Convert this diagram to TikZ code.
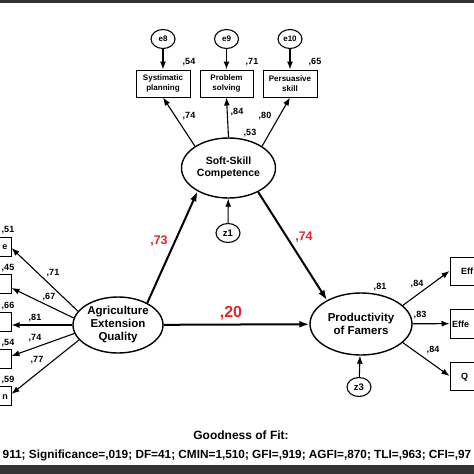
\documentclass[tikz,border=0pt]{standalone}
\usepackage{fontspec}
\setmainfont{Liberation Sans}
\usetikzlibrary{shapes.geometric,arrows.meta}
\definecolor{coefred}{RGB}{230,35,45}
\begin{document}
\begin{tikzpicture}[x=1pt,y=-1pt,
  lat/.style={ellipse,draw,line width=1.4pt,inner sep=0pt,align=center,font=\fontsize{11.5}{13}\selectfont\bfseries},
  err/.style={ellipse,draw,line width=1.1pt,inner sep=0pt,minimum width=24pt,minimum height=19pt,font=\fontsize{8}{9}\selectfont\bfseries},
  ind/.style={rectangle,draw,line width=1pt,inner sep=0pt,align=center,font=\fontsize{8}{9.5}\selectfont\bfseries},
  frag/.style={inner sep=0pt,font=\fontsize{9}{10}\selectfont\bfseries},
  thinarr/.style={-{Latex[length=8pt,width=6pt]},line width=1.1pt},
  thickarr/.style={-{Latex[length=10pt,width=7pt]},line width=2pt},
  coef/.style={font=\fontsize{9}{10}\selectfont\bfseries,inner sep=0pt},
  redcoef/.style={font=\fontsize{12.5}{14}\selectfont\bfseries,text=coefred,inner sep=0pt},
  fit/.style={inner sep=0pt,font=\fontsize{12}{14}\selectfont\bfseries},
]
\useasboundingbox (0,0) rectangle (474,474);
\fill[black!80] (0,0) rectangle (474,3);
\fill[black!80] (0,465) rectangle (474,474);

% latent variables
\node[lat,minimum width=94pt,minimum height=60pt,font=\fontsize{10.5}{12}\selectfont\bfseries] (soft) at (228.5,168) {Soft-Skill\\Competence};
\node[lat,minimum width=90pt,minimum height=56pt] (agri) at (118,325) {Agriculture\\Extension\\Quality};
\node[lat,minimum width=102pt,minimum height=62pt,font=\fontsize{11.5}{12.5}\selectfont\bfseries] (prod) at (361,324) {Productivity\\of Famers};

% error terms
\node[err] (e8) at (163,39) {e8};
\node[err] (e9) at (226.5,39) {e9};
\node[err] (e10) at (290,39) {e10};
\node[err,font=\fontsize{9.5}{10}\selectfont\bfseries] (z1) at (228,233) {z1};
\node[err,font=\fontsize{9.5}{10}\selectfont\bfseries] (z3) at (359,387) {z3};

% indicators top
\node[ind,minimum width=54pt,minimum height=27pt] (b1) at (163,83.5) {Systimatic\\planning};
\node[ind,minimum width=53pt,minimum height=27pt] (b2) at (226.5,83.5) {Problem\\solving};
\node[ind,minimum width=54pt,minimum height=27pt] (b3) at (290,83.5) {Persuasive\\skill};

% indicators left (cut by the edge)
\node[ind,minimum width=52pt,minimum height=19pt] (l1) at (-15,246.5) {};
\node[ind,minimum width=52pt,minimum height=19pt] (l2) at (-15,284) {};
\node[ind,minimum width=52pt,minimum height=19pt] (l3) at (-15,322) {};
\node[ind,minimum width=52pt,minimum height=19pt] (l4) at (-15,359) {};
\node[ind,minimum width=52pt,minimum height=19pt] (l5) at (-15,396) {};
\node[frag] (l1t) at (5,247) {e};
\node[frag] (l5t) at (5,397) {n};

% indicators right (cut by the edge)
\node[ind,minimum width=70pt,minimum height=28pt] (r1) at (485,271) {};
\node[ind,minimum width=70pt,minimum height=29pt] (r2) at (485,323.5) {};
\node[ind,minimum width=70pt,minimum height=28pt] (r3) at (485,376) {};
\node[frag,anchor=west] (r1t) at (461,271.5) {Eff};
\node[frag,anchor=west] (r2t) at (452,324) {Effe};
\node[frag,anchor=west] (r3t) at (461,377) {Q};

% connectors
\draw[thinarr] (e8) -- (b1);
\draw[thinarr] (e9) -- (b2);
\draw[thinarr] (e10) -- (b3);
\draw[thinarr] (soft.147) -- (b1.south);
\draw[thinarr] (soft.90) -- (b2.south);
\draw[thinarr] (soft.33) -- (b3.south);
\draw[thinarr] (z1) -- (soft);
\draw[thinarr] (z3) -- (prod);
\draw[thickarr] (agri.37) -- (soft.217);
\draw[thickarr] (soft.321) -- (prod.145);
\draw[thickarr] (agri) -- (prod);
\draw[thinarr] (prod.24) -- (r1.west);
\draw[thinarr] (prod) -- (r2);
\draw[thinarr] (prod.-24) -- (r3.west);
\draw[thinarr] (agri.161) -- ([yshift=-1.5pt]l1.east);
\draw[thinarr] (agri.171) -- ([yshift=-4pt]l2.east);
\draw[thinarr] (agri.180) -- ([yshift=-3pt]l3.east);
\draw[thinarr] (agri.191) -- ([yshift=3pt]l4.east);
\draw[thinarr] (agri.201) -- ([yshift=2pt]l5.east);

% coefficients
\node[coef] (c1) at (189,62) {,54};
\node[coef] (c2) at (252,62) {,71};
\node[coef] (c3) at (315,62) {,65};
\node[coef] (c4) at (189,116) {,74};
\node[coef] (c5) at (237,112) {,84};
\node[coef] (c6) at (265,116) {,80};
\node[coef] (c7) at (250,133) {,53};
\node[coef] (c8) at (380,287) {,81};
\node[coef] (c9) at (417,284) {,84};
\node[coef] (c10) at (420,315) {,83};
\node[coef] (c11) at (433,350) {,84};
\node[coef] (c12) at (8,230) {,51};
\node[coef] (c13) at (8,268) {,45};
\node[coef] (c14) at (8,306) {,66};
\node[coef] (c15) at (8,343) {,54};
\node[coef] (c16) at (8,380) {,59};
\node[coef] (c17) at (53,273) {,71};
\node[coef] (c18) at (49,297) {,67};
\node[coef] (c19) at (35,318) {,81};
\node[coef] (c20) at (35,338) {,74};
\node[coef] (c21) at (37,360) {,77};
\node[redcoef] (r73) at (159,241) {,73};
\node[redcoef] (r74) at (304,237) {,74};
\node[redcoef,font=\fontsize{16}{18}\selectfont\bfseries] (r20) at (231,313) {,20};

% goodness of fit
\node[fit] (gof) at (241,435) {Goodness of Fit:};
\node[fit,font=\fontsize{11.8}{14}\selectfont\bfseries] (fitline) at (237,455) {911; Significance=,019; DF=41; CMIN=1,510; GFI=,919; AGFI=,870; TLI=,963; CFI=,97};
\end{tikzpicture}
\end{document}
